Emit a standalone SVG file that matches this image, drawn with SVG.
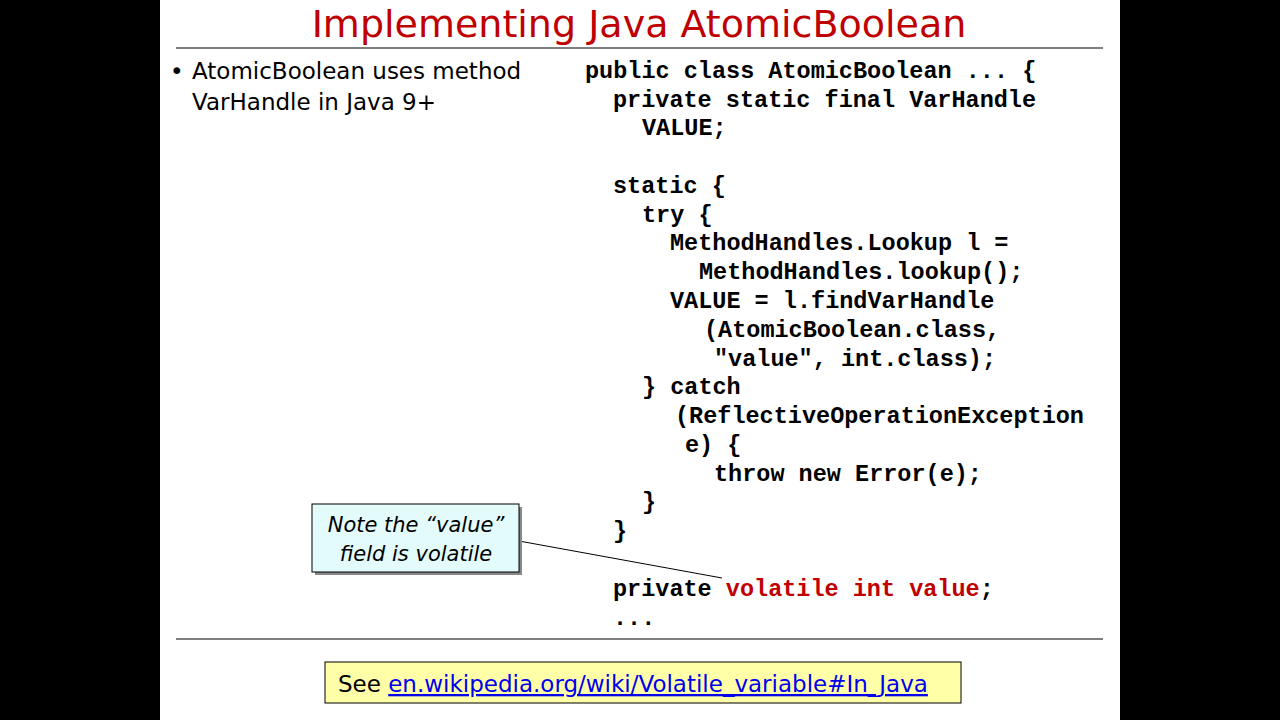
<svg xmlns="http://www.w3.org/2000/svg" width="1280" height="720" viewBox="0 0 1280 720">
<style>
.code{font-family:"Liberation Mono",monospace;font-weight:bold;font-size:23.5px;fill:#000;white-space:pre}
.red{fill:#c00000}
.sans{font-family:"DejaVu Sans","Liberation Sans",sans-serif}
</style>
<rect width="1280" height="720" fill="#000"/>
<rect x="160" y="0" width="960" height="720" fill="#fff"/>
<text x="639" y="37" text-anchor="middle" class="sans" font-size="38" fill="#c00000">Implementing Java AtomicBoolean</text>
<line x1="176" y1="48" x2="1103" y2="48" stroke="#000" stroke-width="1.2"/>
<line x1="176" y1="639" x2="1103" y2="639" stroke="#000" stroke-width="1.2"/>
<g id="bullet" class="sans" font-size="23">
<text x="170" y="79">•</text>
<text x="192" y="79">AtomicBoolean uses method</text>
<text x="192" y="110">VarHandle in Java 9+</text>
</g>
<g id="code" class="code" xml:space="preserve">
<text x="585" y="78">public class AtomicBoolean ... {</text>
<text x="613" y="107">private static final VarHandle</text>
<text x="642" y="135">VALUE;</text>
<text x="613" y="193">static {</text>
<text x="642" y="222">try {</text>
<text x="670" y="250">MethodHandles.Lookup l =</text>
<text x="699" y="279">MethodHandles.lookup();</text>
<text x="670" y="308">VALUE = l.findVarHandle</text>
<text x="704" y="337">(AtomicBoolean.class,</text>
<text x="714" y="366">"value", int.class);</text>
<text x="642" y="394">} catch</text>
<text x="675" y="423">(ReflectiveOperationException</text>
<text x="685" y="452">e) {</text>
<text x="714" y="481">throw new Error(e);</text>
<text x="642" y="509">}</text>
<text x="613" y="538">}</text>
<text x="613" y="596">private <tspan class="red">volatile int value</tspan>;</text>
<text x="613" y="625">...</text>
</g>
<g id="connectors">
<line x1="519" y1="541" x2="722" y2="578" stroke="#000" stroke-width="1"/>
</g>
<g id="callout">
<rect x="315" y="507" width="207" height="68" fill="#888"/>
<rect x="312" y="504" width="207" height="68" fill="#e4fbfb" stroke="#000" stroke-width="1"/>
<text x="416" y="532" text-anchor="middle" class="sans" font-style="italic" font-size="21">Note the “value”</text>
<text x="416" y="561" text-anchor="middle" class="sans" font-style="italic" font-size="21">field is volatile</text>
</g>
<g id="link">
<rect x="325" y="662" width="636" height="41" fill="#ffffa8" stroke="#000" stroke-width="1"/>
<text x="338" y="692" class="sans" font-size="23">See <tspan fill="#0000ee" text-decoration="underline">en.wikipedia.org/wiki/Volatile_variable#In_Java</tspan></text>
</g>
</svg>
